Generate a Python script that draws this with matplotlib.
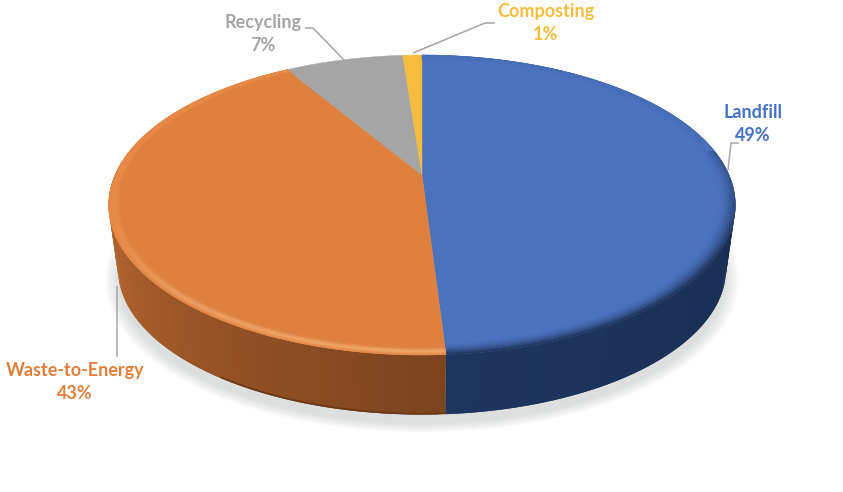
import numpy as np
import matplotlib
matplotlib.use('Agg')
import matplotlib.pyplot as plt
from matplotlib.collections import PolyCollection
from matplotlib.colors import to_rgb

### (0) Data
categories = ['Landfill', 'Waste-to-Energy', 'Recycling', 'Composting']
shares = [49.0, 42.4, 7.4, 1.2]  # slice sizes as drawn
pct_labels = ['49%', '43%', '7%', '1%']
top_colors = ['#4a72bd', '#dd8040', '#a5a5a5', '#f5bc3d']
text_colors = ['#4472c4', '#e07f3c', '#a5a5a5', '#f5bd3e']

### (1) Geometry of the tilted disc, in pixels
cx, cy = 422, 175
ax_u, ax_v, persp = 307, 144, 0.2
wall_scale, wall_drop = 0.97, 65


def project(r, th):
    # th is degrees clockwise from 12 o'clock
    t = np.radians(th)
    u = r * np.sin(t)
    v = -r * np.cos(t)
    den = 1 - persp * v
    return cx + ax_u * u / den, cy + ax_v * v / den


def to_wall(x, y):
    return cx + (x - cx) * wall_scale, cy + (y - cy) * wall_scale + wall_drop


def mix(c1, c2, w):
    c1, c2 = np.array(to_rgb(c1)), np.array(to_rgb(c2))
    return tuple(c1 + (c2 - c1) * min(max(w, 0), 1))


def side_color(i, th):
    if i == 0:
        return mix('#1b2d50', '#1e3560', (th - 90) / 86)
    if th < 235:
        return mix('#7a431e', '#a55c2b', (th - 176) / 59)
    return mix('#a55c2b', '#c07033', (th - 235) / 35)


fig = plt.figure(figsize=(8.43, 4.92), dpi=100)
ax = fig.add_axes([0, 0, 1, 1])
ax.set_xlim(0, 843)
ax.set_ylim(492, 0)
ax.axis('off')

edges = np.concatenate([[0], np.cumsum(shares)]) * 3.6
edges[-1] = 360

### (2) Soft shadow under the disc
ring = np.linspace(0, 360, 361)
for grow in np.linspace(1.04, 1.0, 10):
    sx, sy = project(grow, ring)
    sx, sy = to_wall(sx, sy)
    ax.fill(sx, sy + 9, color='#9aa0a0', alpha=0.035, lw=0, zorder=1)

### (3) Side wall, far end first; each piece overlaps the next so no seams show
for i in range(2):
    lo, hi = max(edges[i], 60), min(edges[i + 1], 300)
    for a in np.arange(lo, hi, 1.0)[::-1]:
        b = min(a + 2.0, hi)
        seg = np.linspace(a, b, 4)
        x, y = project(1, seg)
        xw, yw = to_wall(x, y)
        ax.fill(np.r_[x, xw[::-1]], np.r_[y, yw[::-1]], color=side_color(i, a + 0.5), lw=0, zorder=2)

# darker strip along the foot of the wall near the seam
fx, fy = to_wall(*project(1, np.linspace(edges[1], edges[1] + 38, 40)))
ax.plot(fx, fy - 1, color='#6b3a18', lw=1.2, zorder=2.5, solid_capstyle='butt')

### (4) Top face
for i in range(len(shares)):
    ths = np.linspace(edges[i], edges[i + 1], 200)
    x, y = project(1, ths)
    ax.fill(np.r_[cx, x], np.r_[cy, y], color=top_colors[i], lw=0.3, zorder=3)

### (5) Bevel along the rim of the two big slices
radii = np.linspace(0.945, 1.0, 15)
polys, cols = [], []
for i in range(2):
    ths = np.linspace(edges[i], edges[i + 1], int(edges[i + 1] - edges[i]) + 1)
    for a, b in zip(ths[:-1], ths[1:]):
        mid = (a + b) / 2
        front = max(0.0, -np.cos(np.radians(mid)))
        for r0, r1 in zip(radii[:-1], radii[1:]):
            t = ((r0 + r1) / 2 - 0.945) / 0.055
            if i == 0:
                w = t ** 2.0 * min(1, 0.1 + 1.1 * front + 0.35 * max(0, np.sin(np.radians(mid))) * (mid > 80))
                c = mix(top_colors[0], '#1d3054', w)
            else:
                w = np.exp(-((t - 0.72) / 0.22) ** 2) * (0.2 + 0.55 * front)
                c = mix(top_colors[1], '#f7b47a', w)
                if mid > 225:
                    c = mix(c, '#ea8b47', 0.8 * np.clip((t - 0.45) / 0.25, 0, 1) * min(1, (mid - 225) / 25))
            xa0, ya0 = project(r0, a)
            xb0, yb0 = project(r0, b)
            xa1, ya1 = project(r1, a)
            xb1, yb1 = project(r1, b)
            polys.append([(xa0, ya0), (xb0, yb0), (xb1, yb1), (xa1, ya1)])
            cols.append(c)
ax.add_collection(PolyCollection(polys, facecolors=cols, edgecolors=cols, linewidths=0.3, zorder=4))

### (6) Leader lines and labels
leaders = [([728, 731, 739], [170, 143, 143]),
           ([117, 117], [286, 357]),
           ([305, 313, 344], [28, 28, 60]),
           ([495, 485, 413], [23, 23, 53])]
for lx, ly in leaders:
    ax.plot(lx, ly, color='#a6a6a6', lw=1.1, zorder=5, solid_capstyle='butt')

label_pos = [(753, 124), (75, 382), (263, 34), (546, 23)]
for i, name in enumerate(categories):
    ax.text(label_pos[i][0], label_pos[i][1], '{}\n{}'.format(name, pct_labels[i]),
            ha='center', va='center', color=text_colors[i], fontsize=13,
            fontweight='bold', family='Lato', linespacing=1.4, zorder=6)

fig.savefig('out.png', dpi=100)
